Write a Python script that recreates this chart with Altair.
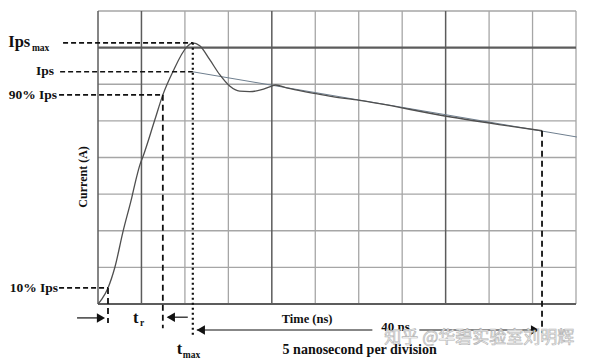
import altair as alt
import pandas as pd

# ---- waveform (time in ns, current in grid divisions) ----
wave_t = [0, 0.46, 1.15, 1.95, 2.87, 3.90, 4.36, 4.82, 5.17, 6.54, 7.46, 8.61, 10.22, 10.91,
          11.71, 12.86, 14.01, 15.15, 16.30, 17.45, 18.83, 19.75, 20.44, 21.70, 24.68, 26.98,
          30.08, 32.38, 39.27, 46.15, 51.09]
wave_i = [0, 0.14, 0.44, 1.01, 1.97, 2.92, 3.39, 3.80, 4.02, 5.03, 5.71, 6.34, 7.02, 7.13,
          7.05, 6.67, 6.26, 5.95, 5.81, 5.80, 5.85, 5.93, 5.98, 5.90, 5.76, 5.66,
          5.56, 5.47, 5.16, 4.90, 4.73]

# Ips decay reference line
ips_line_t = [10.91, 55.1]
ips_line_i = [6.34, 4.56]

# grid (5 ns per division)
grid_v_light = [10, 15, 25, 30, 35, 45, 50, 55]
grid_v_dark = [0, 5, 20, 40]
grid_h_light = [1, 2, 3, 4, 5, 6, 8]
grid_h_dark = [0, 7]

# level labels on the left
level_names = ["Ips", "90% Ips", "10% Ips"]
level_label_t = [-5.05, -4.71, -4.59]
level_label_i = [6.37, 5.71, 0.44]

# dashed horizontal guides
hguide_t1 = [-4.02, -4.36, -4.48, -4.48]
hguide_t2 = [10.91, 10.91, 7.46, 1.15]
hguide_i = [7.13, 6.34, 5.71, 0.44]

# dashed vertical guides
vguide_t = [1.15, 7.46, 51.09]
vguide_i1 = [0.44, 5.71, 4.73]
vguide_i2 = [-0.52, -0.66, -0.79]

# dotted t_max guide
tmax_t = [10.91]
tmax_i1 = [7.13]
tmax_i2 = [-0.87]

# arrow shafts and heads
arrow_t1 = [-2.41, 8.04, 11.37, 36.97]
arrow_t2 = [0.23, 10.33, 31.57, 50.3]
arrow_i = [-0.38, -0.36, -0.71, -0.71]
head_t = [0.34, 8.38, 11.83, 50.29]
head_i = [-0.38, -0.36, -0.71, -0.71]
head_shape = ["triangle-right", "triangle-left", "triangle-left", "triangle-right"]

# text items
big_labels = ["Ips", "t", "t"]
big_t = [-10.33, 4.02, 9.07]
big_i = [7.02, -0.52, -1.37]
sub_labels = ["max", "r", "max"]
sub_t = [-7.6, 4.82, 9.76]
sub_i = [6.91, -0.60, -1.48]

FONT = "Liberation Serif"
XS = alt.Scale(domain=[0, 55], nice=False, zero=False)
YS = alt.Scale(domain=[0, 8], nice=False, zero=False)


def X(f="x"):
    return alt.X(f"{f}:Q", scale=XS, axis=None)


def Y(f="y"):
    return alt.Y(f"{f}:Q", scale=YS, axis=None)


def vgrid(vals, color, width):
    df = pd.DataFrame({"x": vals, "y": [0] * len(vals), "y2": [8] * len(vals)})
    return alt.Chart(df).mark_rule(color=color, strokeWidth=width).encode(
        x=X(), y=Y(), y2="y2:Q")


def hgrid(vals, color, width):
    df = pd.DataFrame({"y": vals, "x": [0] * len(vals), "x2": [55] * len(vals)})
    return alt.Chart(df).mark_rule(color=color, strokeWidth=width).encode(
        x=X(), x2="x2:Q", y=Y())


layers = [
    vgrid(grid_v_light, "#a6a6a6", 1.3),
    hgrid(grid_h_light, "#a6a6a6", 1.3),
    vgrid(grid_v_dark, "#5c5c5c", 1.5),
    hgrid(grid_h_dark, "#5c5c5c", 2.2),
]

# Ips line
layers.append(alt.Chart(pd.DataFrame({"x": ips_line_t, "y": ips_line_i})).mark_line(
    color="#6f7f8f", strokeWidth=1.0, clip=False).encode(x=X(), y=Y()))

# waveform
layers.append(alt.Chart(pd.DataFrame({"x": wave_t, "y": wave_i})).mark_line(
    color="#4f4f4f", strokeWidth=1.3, interpolate="monotone").encode(x=X(), y=Y()))

# dashed horizontal guides
layers.append(alt.Chart(pd.DataFrame({"x": hguide_t1, "x2": hguide_t2, "y": hguide_i})).mark_rule(
    color="#111", strokeWidth=1.6, strokeDash=[5, 3]).encode(x=X(), x2="x2:Q", y=Y()))

# dashed vertical guides
layers.append(alt.Chart(pd.DataFrame({"x": vguide_t, "y": vguide_i1, "y2": vguide_i2})).mark_rule(
    color="#111", strokeWidth=1.8, strokeDash=[6, 4]).encode(x=X(), y=Y(), y2="y2:Q"))

# dotted tmax guide
layers.append(alt.Chart(pd.DataFrame({"x": tmax_t, "y": tmax_i1, "y2": tmax_i2})).mark_rule(
    color="#111", strokeWidth=2.2, strokeDash=[2, 3]).encode(x=X(), y=Y(), y2="y2:Q"))

# arrow shafts
layers.append(alt.Chart(pd.DataFrame({"x": arrow_t1, "x2": arrow_t2, "y": arrow_i})).mark_rule(
    color="#111", strokeWidth=1.2).encode(x=X(), x2="x2:Q", y=Y()))

# arrow heads
layers.append(alt.Chart(pd.DataFrame({"x": head_t, "y": head_i, "s": head_shape})).mark_point(
    filled=True, color="#111", size=90, opacity=1).encode(
    x=X(), y=Y(), shape=alt.Shape("s:N", scale=None)))

# level labels
layers.append(alt.Chart(pd.DataFrame({"x": level_label_t, "y": level_label_i, "t": level_names})).mark_text(
    font=FONT, fontWeight="bold", fontSize=13.5, align="right", baseline="middle", color="#111").encode(
    x=X(), y=Y(), text="t:N"))

# big letters (Ips_max, t_r, t_max)
layers.append(alt.Chart(pd.DataFrame({"x": big_t, "y": big_i, "t": big_labels})).mark_text(
    font=FONT, fontWeight="bold", fontSize=16.5, align="left", baseline="alphabetic", color="#111").encode(
    x=X(), y=Y(), text="t:N"))

# subscripts
layers.append(alt.Chart(pd.DataFrame({"x": sub_t, "y": sub_i, "t": sub_labels})).mark_text(
    font=FONT, fontWeight="bold", fontSize=9.5, align="left", baseline="alphabetic", color="#111").encode(
    x=X(), y=Y(), text="t:N"))

# Time (ns)
layers.append(alt.Chart(pd.DataFrame({"x": [21.13], "y": [-0.41], "t": ["Time (ns)"]})).mark_text(
    font=FONT, fontWeight="bold", fontSize=12.5, align="left", baseline="middle", color="#111").encode(
    x=X(), y=Y(), text="t:N"))

# 40 ns
layers.append(alt.Chart(pd.DataFrame({"x": [32.6], "y": [-0.63], "t": ["40 ns"]})).mark_text(
    font=FONT, fontWeight="bold", fontSize=13, align="left", baseline="middle", color="#111").encode(
    x=X(), y=Y(), text="t:N"))

# 5 nanosecond per division
layers.append(alt.Chart(pd.DataFrame({"x": [21.24], "y": [-1.26], "t": ["5 nanosecond per division"]})).mark_text(
    font=FONT, fontWeight="bold", fontSize=14, align="left", baseline="middle", color="#111").encode(
    x=X(), y=Y(), text="t:N"))

# Current (A)
layers.append(alt.Chart(pd.DataFrame({"x": [-1.72], "y": [3.47], "t": ["Current (A)"]})).mark_text(
    font=FONT, fontWeight="bold", fontSize=12, align="center", baseline="middle", angle=270,
    color="#111").encode(x=X(), y=Y(), text="t:N"))

# watermark
layers.append(alt.Chart(pd.DataFrame({"x": [32.95], "y": [-0.93], "t": ["知乎 @华碧实验室刘明辉"]})).mark_text(
    font="Noto Sans CJK SC", fontSize=17, align="left", baseline="middle", fill="white",
    stroke="#b6b6b6", strokeWidth=0.7).encode(x=X(), y=Y(), text="t:N"))

chart = alt.layer(*layers).properties(
    width=478, height=293,
    autosize="none",
    padding={"left": 90, "top": 3, "right": 2, "bottom": 58},
    background="white",
).configure_view(stroke=None)

chart.save("out.html", embed_options={"renderer": "svg", "actions": False})
